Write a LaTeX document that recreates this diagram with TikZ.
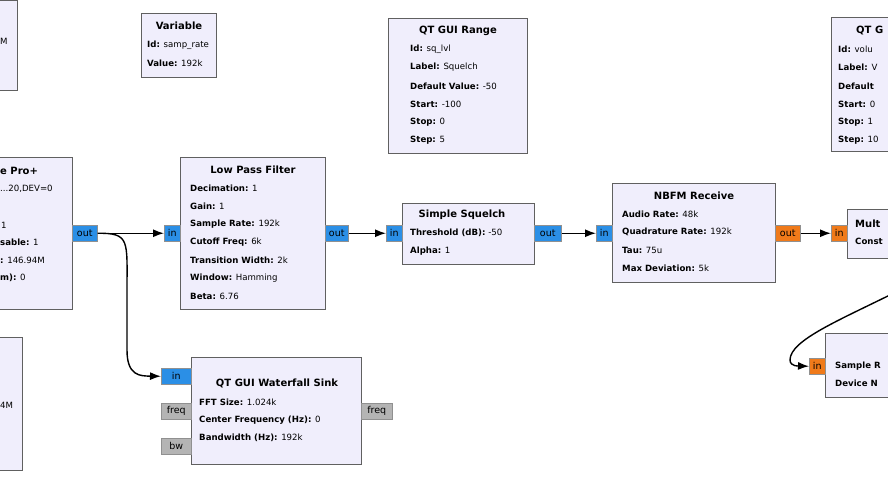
\documentclass[tikz,border=0pt]{standalone}
\usepackage{fontspec}
\setmainfont{DejaVu Sans}
\usetikzlibrary{arrows.meta}
\definecolor{blk}{HTML}{F0EEFC}
\definecolor{bdr}{HTML}{606060}
\definecolor{pblue}{HTML}{2B8FE6}
\definecolor{porange}{HTML}{F07A1A}
\definecolor{pgray}{HTML}{B4B4B4}
\tikzset{
 block/.style={draw=bdr,line width=1.3pt,fill=blk,anchor=north west,inner sep=0},
 port/.style={draw=bdr!70,line width=0.5pt,anchor=north west,inner sep=0,font=\fontsize{9.5}{10}\selectfont,text=black},
 bp/.style={port,fill=pblue},
 op/.style={port,fill=porange},
 gp/.style={port,fill=pgray},
 ttl/.style={font=\fontsize{10}{11}\selectfont\bfseries,inner sep=0},
 txt/.style={anchor=west,inner sep=0,font=\fontsize{8.6}{9}\selectfont},
 wire/.style={line width=1.4pt,-{Latex[length=11pt,width=8pt]}}
}
\newcommand{\kv}[2]{\textbf{#1} #2}
\begin{document}
\begin{tikzpicture}[x=1pt,y=-1pt]
\useasboundingbox (0,0) rectangle (888,500);
\clip (0,0) rectangle (888,500);
\fill[white] (0,0) rectangle (888,500);
% partial blocks left
\node[block,minimum width=60,minimum height=90] (tl) at (-43,0) {};
\node[txt] (tlt) at (0,41) {M};
\node[block,minimum width=150,minimum height=152] (src) at (-78,157) {};
\node[ttl,anchor=west] (srct) at (0,171) {e Pro+};
\node[txt] (s1) at (0,189) {...20,DEV=0};
\node[txt] (s2) at (1,225) {1};
\node[txt] (s3) at (0,242) {\textbf{sable:} 1};
\node[txt] (s4) at (0,260) {\textbf{:} 146.94M};
\node[txt] (s5) at (0,278) {\textbf{m):} 0};
\node[block,minimum width=60,minimum height=133] (bl) at (-38,337) {};
\node[txt] (blt) at (0,405) {4M};
% Variable
\node[block,minimum width=75,minimum height=64] (var) at (141,13) {};
\node[ttl] (vart) at (179,26) {Variable};
\node[txt] (v1) at (147,45) {\kv{Id:}{samp\_rate}};
\node[txt] (v2) at (147,63) {\kv{Value:}{192k}};
% QT GUI Range
\node[block,minimum width=139,minimum height=135] (rng) at (388,18) {};
\node[ttl] (rngt) at (458,31) {QT GUI Range};
\node[txt] (r1) at (410,49) {\kv{Id:}{sq\_lvl}};
\node[txt] (r2) at (410,67) {\kv{Label:}{Squelch}};
\node[txt] (r3) at (410,86) {\kv{Default Value:}{-50}};
\node[txt] (r4) at (410,104) {\kv{Start:}{-100}};
\node[txt] (r5) at (410,122) {\kv{Stop:}{0}};
\node[txt] (r6) at (410,140) {\kv{Step:}{5}};
% QT GUI right partial
\node[block,minimum width=100,minimum height=134] (qr) at (831,17) {};
\node[ttl,anchor=west] (qrt) at (856,31) {QT G};
\node[txt] (q1) at (838,49) {\kv{Id:}{volu}};
\node[txt] (q2) at (838,67) {\kv{Label:}{V}};
\node[txt] (q3) at (838,86) {\textbf{Default}};
\node[txt] (q4) at (838,104) {\kv{Start:}{0}};
\node[txt] (q5) at (838,122) {\kv{Stop:}{1}};
\node[txt] (q6) at (838,140) {\kv{Step:}{10}};
% Low Pass Filter
\node[block,minimum width=145,minimum height=152] (lpf) at (180,157) {};
\node[ttl] (lpft) at (253,170) {Low Pass Filter};
\node[txt] (l1) at (190,188) {\kv{Decimation:}{1}};
\node[txt] (l2) at (190,206) {\kv{Gain:}{1}};
\node[txt] (l3) at (190,224) {\kv{Sample Rate:}{192k}};
\node[txt] (l4) at (190,242) {\kv{Cutoff Freq:}{6k}};
\node[txt] (l5) at (190,260) {\kv{Transition Width:}{2k}};
\node[txt] (l6) at (190,278) {\kv{Window:}{Hamming}};
\node[txt] (l7) at (190,296) {\kv{Beta:}{6.76}};
% Simple Squelch
\node[block,minimum width=132,minimum height=61] (sq) at (402,203) {};
\node[ttl] (sqt) at (462,215) {Simple Squelch};
\node[txt] (sq1) at (410,233) {\kv{Threshold (dB):}{-50}};
\node[txt] (sq2) at (410,251) {\kv{Alpha:}{1}};
% NBFM
\node[block,minimum width=163,minimum height=99] (nb) at (612,183) {};
\node[ttl] (nbt) at (694,196) {NBFM Receive};
\node[txt] (n1) at (622,214) {\kv{Audio Rate:}{48k}};
\node[txt] (n2) at (622,232) {\kv{Quadrature Rate:}{192k}};
\node[txt] (n3) at (622,250) {\kv{Tau:}{75u}};
\node[txt] (n4) at (622,268) {\kv{Max Deviation:}{5k}};
% Mult partial
\node[block,minimum width=80,minimum height=49] (mu) at (847,209) {};
\node[ttl,anchor=west] (mut) at (855,224) {Mult};
\node[txt] (mu1) at (855,241) {\textbf{Const}};
% Sample partial
\node[block,minimum width=100,minimum height=64] (sr) at (825,333) {};
\node[txt] (sr1) at (835,366) {\textbf{Sample R}};
\node[txt] (sr2) at (835,383) {\textbf{Device N}};
% Waterfall
\node[block,minimum width=170,minimum height=107] (wf) at (191,357) {};
\node[ttl] (wft) at (277,383) {QT GUI Waterfall Sink};
\node[txt] (w1) at (199,402) {\kv{FFT Size:}{1.024k}};
\node[txt] (w2) at (199,420) {\kv{Center Frequency (Hz):}{0}};
\node[txt] (w3) at (199,438) {\kv{Bandwidth (Hz):}{192k}};
% ports
\node[bp,minimum width=25,minimum height=16] (srco) at (72,225) {out};
\node[bp,minimum width=16,minimum height=16] (lpfi) at (164,225) {in};
\node[bp,minimum width=23,minimum height=16] (lpfo) at (325,225) {out};
\node[bp,minimum width=16,minimum height=16] (sqi) at (386,225) {in};
\node[bp,minimum width=27,minimum height=16] (sqo) at (534,225) {out};
\node[bp,minimum width=16,minimum height=16] (nbi) at (596,225) {in};
\node[op,minimum width=25,minimum height=16] (nbo) at (775,225) {out};
\node[op,minimum width=16,minimum height=16] (mui) at (831,225) {in};
\node[op,minimum width=16,minimum height=16] (sri) at (809,358) {in};
\node[bp,minimum width=30,minimum height=16] (wfi) at (161,368) {in};
\node[gp,minimum width=30,minimum height=16] (wff) at (161,403) {freq};
\node[gp,minimum width=30,minimum height=16] (wfb) at (161,438) {bw};
\node[gp,minimum width=31,minimum height=16] (wffo) at (361,403) {freq};
\coordinate (offr) at (900,290);
% wires
\draw[wire] (srco.east) -- (lpfi.west);
\draw[wire] (srco.east) .. controls (130,233) and (127,240) .. (127,290) -- (127,350) .. controls (127,376) and (140,376) .. (wfi.west);
\draw[wire] (lpfo.east) -- (sqi.west);
\draw[wire] (sqo.east) -- (nbi.west);
\draw[wire] (nbo.east) -- (mui.west);
\draw[wire] (offr) .. controls (840,320) and (790,340) .. (790,360) .. controls (790,367) and (800,366) .. (sri.west);
\end{tikzpicture}
\end{document}
